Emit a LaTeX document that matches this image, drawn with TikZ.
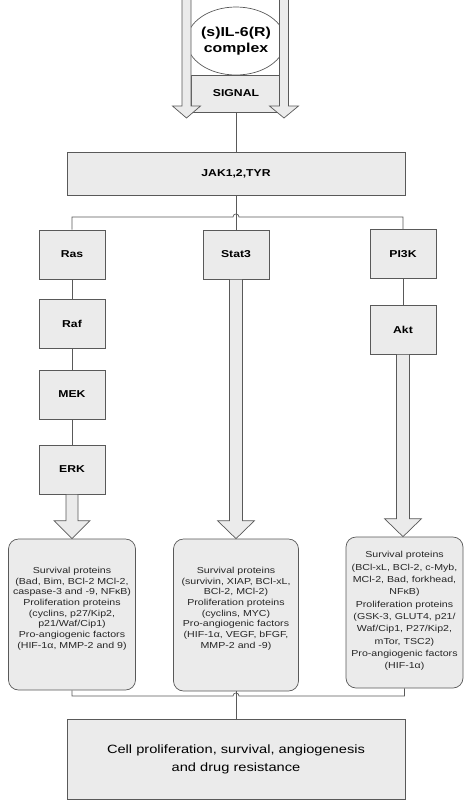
\documentclass[tikz,border=0pt]{standalone}
\usepackage{fontspec}
\setmainfont{Liberation Sans}[FakeStretch=1.22]
\usepackage{tikz}
\usetikzlibrary{shapes.geometric, calc}

% block arrow: from, to, half shaft, half head, head length
\newcommand{\fatarrow}[5]{%
	\filldraw[fatline] let \p1=(#1), \p2=(#2) in
	(\x1-#3pt,\y1) -- (\x1-#3pt,\y2+#5pt) -- (\x1-#4pt,\y2+#5pt) -- (\x1,\y2)
	-- (\x1+#4pt,\y2+#5pt) -- (\x1+#3pt,\y2+#5pt) -- (\x1+#3pt,\y1) -- cycle;
}

\begin{document}
\begin{tikzpicture}[x=1pt, y=-1pt,
		line/.style={draw=black!65, line width=0.7pt},
		fatline/.style={line, fill=black!8},
		box/.style={line, fill=black!8, font=\bfseries, minimum width=66pt, minimum height=49pt, inner sep=0pt},
		probox/.style={line, fill=black!8, rounded corners=10pt, minimum width=125pt, minimum height=151pt},
		protext/.style={align=center, font=\fontsize{8.7}{10.7}\selectfont, text=black!85}]
	\useasboundingbox (0,0) rectangle (474,804);
	
	% receptor with the complex
	\node[box, minimum width=89pt, minimum height=37pt] (signal) at (236,93.5) {SIGNAL};
	\node[ellipse, line, fill=white, minimum width=82pt, minimum height=68pt, inner sep=0pt, align=center,
		font=\bfseries\fontsize{13}{16}\selectfont] (complex) at (236,41) {(s)IL-6(R)\\complex};
	\coordinate (ltop) at (186.5,-1);
	\coordinate (ltip) at (186.5,118);
	\coordinate (rtop) at (284,-1);
	\coordinate (rtip) at (284,118);
	\fatarrow{ltop}{ltip}{4.5}{14}{12}
	\fatarrow{rtop}{rtip}{4.5}{14.5}{12}
	
	\node[box, minimum width=338pt, minimum height=43pt] (jak) at (236,173.5) {JAK1,2,TYR};
	\draw[line] (signal.south) -- (jak.north);
	
	% pathways
	\foreach \name/\x/\y/\txt in {ras/72/254.5/Ras, raf/72/324/Raf, mek/72/394.5/MEK, erk/72/469.5/ERK,
		stat/236/254.5/Stat3, pik/403/254/PI3K, akt/403/329.5/Akt}
	\node[box] (\name) at (\x,\y) {\txt};
	\foreach \a/\b in {ras/raf, raf/mek, mek/erk, pik/akt}
	\draw[line] (\a) -- (\b);
	
	\coordinate (tophub) at (236,217);
	\draw[line] (ras.north) |- ([xshift=-3pt]tophub) .. controls +(0,-4) and +(0,-4) .. ([xshift=3pt]tophub) -| (pik.north);
	\draw[line] (jak.south) -- (stat.north);
	
	% target proteins
	\node[probox, minimum width=127pt] (lbox) at (72,614.5) {};
	\node[probox, minimum height=152pt] (mbox) at (236,615) {};
	\node[probox, minimum width=117pt] (rbox) at (404.5,612.5) {};
	\fatarrow{erk.south}{lbox.north}{6}{18}{18}
	\fatarrow{stat.south}{mbox.north}{6.5}{18.5}{18}
	\fatarrow{akt.south}{rbox.north}{6.5}{18.5}{18}
	
	\node[protext] (ltext) at (72,608.5) {Survival proteins\\(Bad, Bim, BCl-2 MCl-2,\\caspase-3 and -9, NFκB)\\Proliferation proteins\\(cyclins, p27/Kip2,\\p21/Waf/Cip1)\\Pro-angiogenic factors\\(HIF-1α, MMP-2 and 9)};
	\node[protext] (mtext) at (236,608.5) {Survival proteins\\(survivin, XIAP, BCl-xL,\\BCl-2, MCl-2)\\Proliferation proteins\\(cyclins, MYC)\\Pro-angiogenic factors\\(HIF-1α, VEGF, bFGF,\\MMP-2 and -9)};
	\node[protext, font=\fontsize{8.7}{12.3}\selectfont] (rtext) at (404.5,611) {Survival proteins\\(BCl-xL, BCl-2, c-Myb,\\MCl-2, Bad, forkhead,\\NFκB)\\Proliferation proteins\\(GSK-3, GLUT4, p21/\\Waf/Cip1, P27/Kip2,\\mTor, TSC2)\\Pro-angiogenic factors\\(HIF-1α)};
	
	% outcome
	\node[box, minimum width=338pt, minimum height=80pt, align=center, font=\fontsize{12}{18}\selectfont] (result) at (236,759) {Cell proliferation, survival, angiogenesis\\and drug resistance};
	\coordinate (bothub) at (236,696);
	\draw[line] (lbox.south) |- ([xshift=-3pt]bothub) .. controls +(0,-4) and +(0,-4) .. ([xshift=3pt]bothub) -| (rbox.south);
	\draw[line] (mbox.south) -- (result.north);
\end{tikzpicture}
\end{document}
